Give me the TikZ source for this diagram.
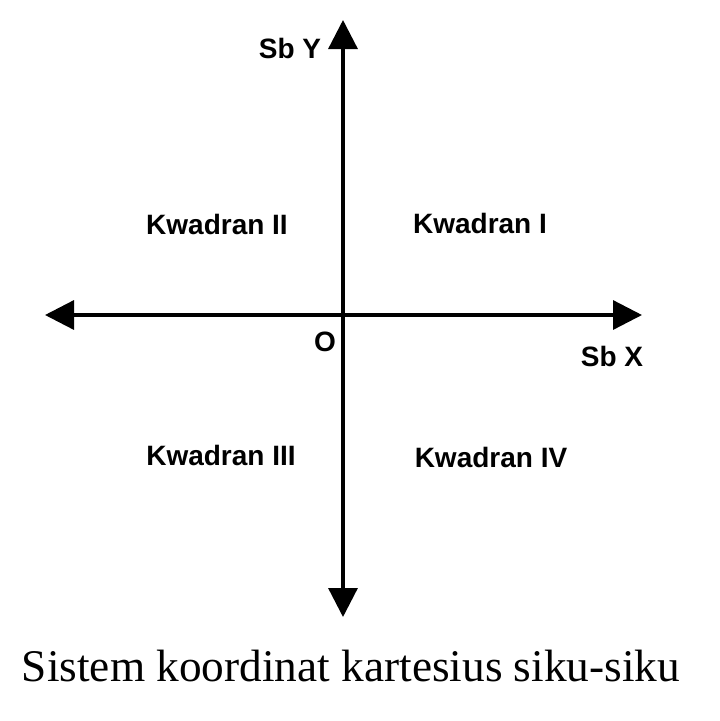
\documentclass[tikz,border=0pt]{standalone}
\usepackage{fontspec}
\setmainfont{Liberation Serif}
\newfontfamily\axisfont{Liberation Sans}
\usetikzlibrary{arrows.meta}
\begin{document}
\begin{tikzpicture}[x=1pt,y=-1pt]
		\tikzstyle axis_style=[line width=3.3pt,>={Triangle[length=29pt,width=29pt]},<->];
		\tikzstyle label_style=[font=\axisfont\bfseries\fontsize{28}{33}\selectfont,inner sep=0pt];
		\useasboundingbox (0,0) rectangle (720,721);

		% AXES
		\coordinate (xl) at (45,315);
		\coordinate (xr) at (642,315);
		\coordinate (yt) at (343,20);
		\coordinate (yb) at (343,617);
		\draw[axis_style] (xl) -- (xr);
		\draw[axis_style] (yb) -- (yt);

		% AXIS LABELS
		\node[label_style] (sby) at (290,48) {Sb Y};
		\node[label_style] (sbx) at (612,356) {Sb X};
		\node[label_style] (origin) at (325,342) {O};

		% QUADRANTS
		\foreach \q/\x/\y/\qtext in {q1/480/223/I, q2/217/224/II, q3/221/455/III, q4/491/457/IV}
			\node[label_style] (\q) at (\x,\y) {Kwadran \qtext};

		% CAPTION
		\node[font=\fontsize{45.3}{54}\selectfont,inner sep=0pt] (caption) at (351,666) {Sistem koordinat kartesius siku-siku};
\end{tikzpicture}
\end{document}
